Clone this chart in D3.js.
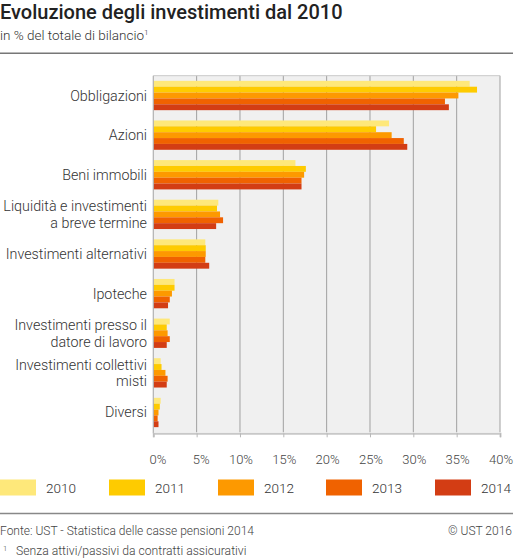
<!DOCTYPE html>
<html><head><meta charset="utf-8">
<script src="https://cdn.jsdelivr.net/npm/d3@7"></script>
<style>
body{margin:0;background:#fff;}
svg text{font-family:Roboto,"Open Sans",sans-serif;}
</style></head>
<body><svg id="c" width="514" height="559"></svg>
<script>
const categories = [
  "Obbligazioni",
  "Azioni",
  "Beni immobili",
  "Liquidità e investimenti|a breve termine",
  "Investimenti alternativi",
  "Ipoteche",
  "Investimenti presso il|datore di lavoro",
  "Investimenti collettivi|misti",
  "Diversi"
];
const years = ["2010","2011","2012","2013","2014"];
const v2010 = [36.5, 27.2, 16.4, 7.5, 6.0, 2.45, 1.9, 0.85, 0.85];
const v2011 = [37.35, 25.7, 17.6, 7.35, 6.05, 2.45, 1.55, 0.95, 0.75];
const v2012 = [35.2, 27.5, 17.4, 7.7, 6.05, 2.15, 1.65, 1.4, 0.6];
const v2013 = [33.65, 28.9, 17.1, 8.05, 6.0, 1.9, 1.9, 1.65, 0.5];
const v2014 = [34.1, 29.3, 17.1, 7.25, 6.45, 1.7, 1.55, 1.55, 0.6];
const seriesValues = [v2010, v2011, v2012, v2013, v2014];
const colors = ["#fee87a","#fecb00","#fd9900","#f06200","#d33d14"];
const xTicks = [0,5,10,15,20,25,30,35,40];

(function(){
const svg = d3.select("#c");
const pL = 153.3, pR = 500, pT = 75.7, pB = 432.3;
const x = d3.scaleLinear().domain([0,40]).range([pL,pR]);
const y = d3.scaleBand().domain(categories).range([pT,pB]).paddingInner(0.26).paddingOuter(0.13);
const yi = d3.scaleBand().domain(years).range([0,y.bandwidth()]);

// title
svg.append("text").attr("x",0).attr("y",18.5).attr("font-size",20).attr("font-weight",500).attr("fill","#222").text("Evoluzione degli investimenti dal 2010");
const st = svg.append("text").attr("x",0).attr("y",40).attr("font-size",13.5).attr("font-weight",300).attr("fill","#333");
st.append("tspan").text("in % del totale di bilancio");
st.append("tspan").attr("font-size",8).attr("dy",-5).text("1");
svg.append("line").attr("x1",0).attr("x2",513).attr("y1",53.3).attr("y2",53.3).attr("stroke","#777").attr("stroke-width",1.5);

// plot background
svg.append("rect").attr("x",pL).attr("y",pT).attr("width",pR-pL).attr("height",pB-pT).attr("fill","#f0f0f0");
// grid
svg.append("g").selectAll("line").data(xTicks.slice(1)).join("line")
  .attr("x1",d=>x(d)).attr("x2",d=>x(d)).attr("y1",pT).attr("y2",pB)
  .attr("stroke","#a0a0a0").attr("stroke-width",1);
svg.append("line").attr("x1",pL).attr("x2",pR).attr("y1",pT).attr("y2",pT).attr("stroke","#c8c8c8").attr("stroke-width",1);

// bars
const g = svg.append("g");
years.forEach((yr,si)=>{
  g.append("g").selectAll("rect").data(seriesValues[si]).join("rect")
    .attr("x",x(0))
    .attr("y",(d,i)=>y(categories[i])+yi(yr))
    .attr("width",d=>x(d)-x(0))
    .attr("height",yi.bandwidth())
    .attr("fill",colors[si]);
});

// left axis line
svg.append("line").attr("x1",pL).attr("x2",pL).attr("y1",pT).attr("y2",pB+1).attr("stroke","#b0b0b0").attr("stroke-width",1.2);
// bottom axis
const ax = svg.append("g").attr("transform",`translate(0,${pB+1})`)
  .call(d3.axisBottom(x).tickValues(xTicks).tickSize(4).tickFormat(d=>d+"%"));
ax.select(".domain").attr("stroke","#c8c8c8").attr("stroke-width",2);
ax.selectAll(".tick line").attr("stroke","#b8b8b8");
ax.selectAll(".tick text").attr("font-size",13).attr("fill","#444").attr("font-weight",300)
  .attr("font-family","Roboto").attr("text-anchor","end").attr("x",12.5).attr("y",21);

// category labels
categories.forEach(c=>{
  const lines = c.split("|");
  const cy = y(c)+y.bandwidth()/2;
  const t = svg.append("text").attr("x",147).attr("text-anchor","end").attr("font-size",14.3).attr("font-weight",300).attr("fill","#333");
  lines.forEach((l,k)=>{
    t.append("tspan").attr("x",147).attr("y",cy + 5 + (k-(lines.length-1)/2)*16.7).text(l);
  });
});

// legend
const lx = [0,109,218,326,435];
years.forEach((yr,i)=>{
  svg.append("rect").attr("x",lx[i]).attr("y",479.5).attr("width",36).attr("height",16).attr("fill",colors[i]);
  svg.append("text").attr("x",lx[i]+46).attr("y",493).attr("font-size",13.5).attr("font-weight",300).attr("fill","#333").text(yr);
});

// footer
svg.append("line").attr("x1",0).attr("x2",513).attr("y1",513.5).attr("y2",513.5).attr("stroke","#888").attr("stroke-width",1.5);
svg.append("text").attr("x",0).attr("y",535).attr("font-size",12).attr("font-weight",300).attr("fill","#444").text("Fonte: UST - Statistica delle casse pensioni 2014");
svg.append("text").attr("x",512).attr("y",535).attr("text-anchor","end").attr("font-size",12).attr("font-weight",300).attr("fill","#444").text("© UST 2016");
svg.append("text").attr("x",3).attr("y",551).attr("font-size",7.5).attr("font-weight",300).attr("fill","#444").text("1");
svg.append("text").attr("x",16).attr("y",555).attr("font-size",12.2).attr("font-weight",300).attr("fill","#444").text("Senza attivi/passivi da contratti assicurativi");
})();
</script></body></html>
